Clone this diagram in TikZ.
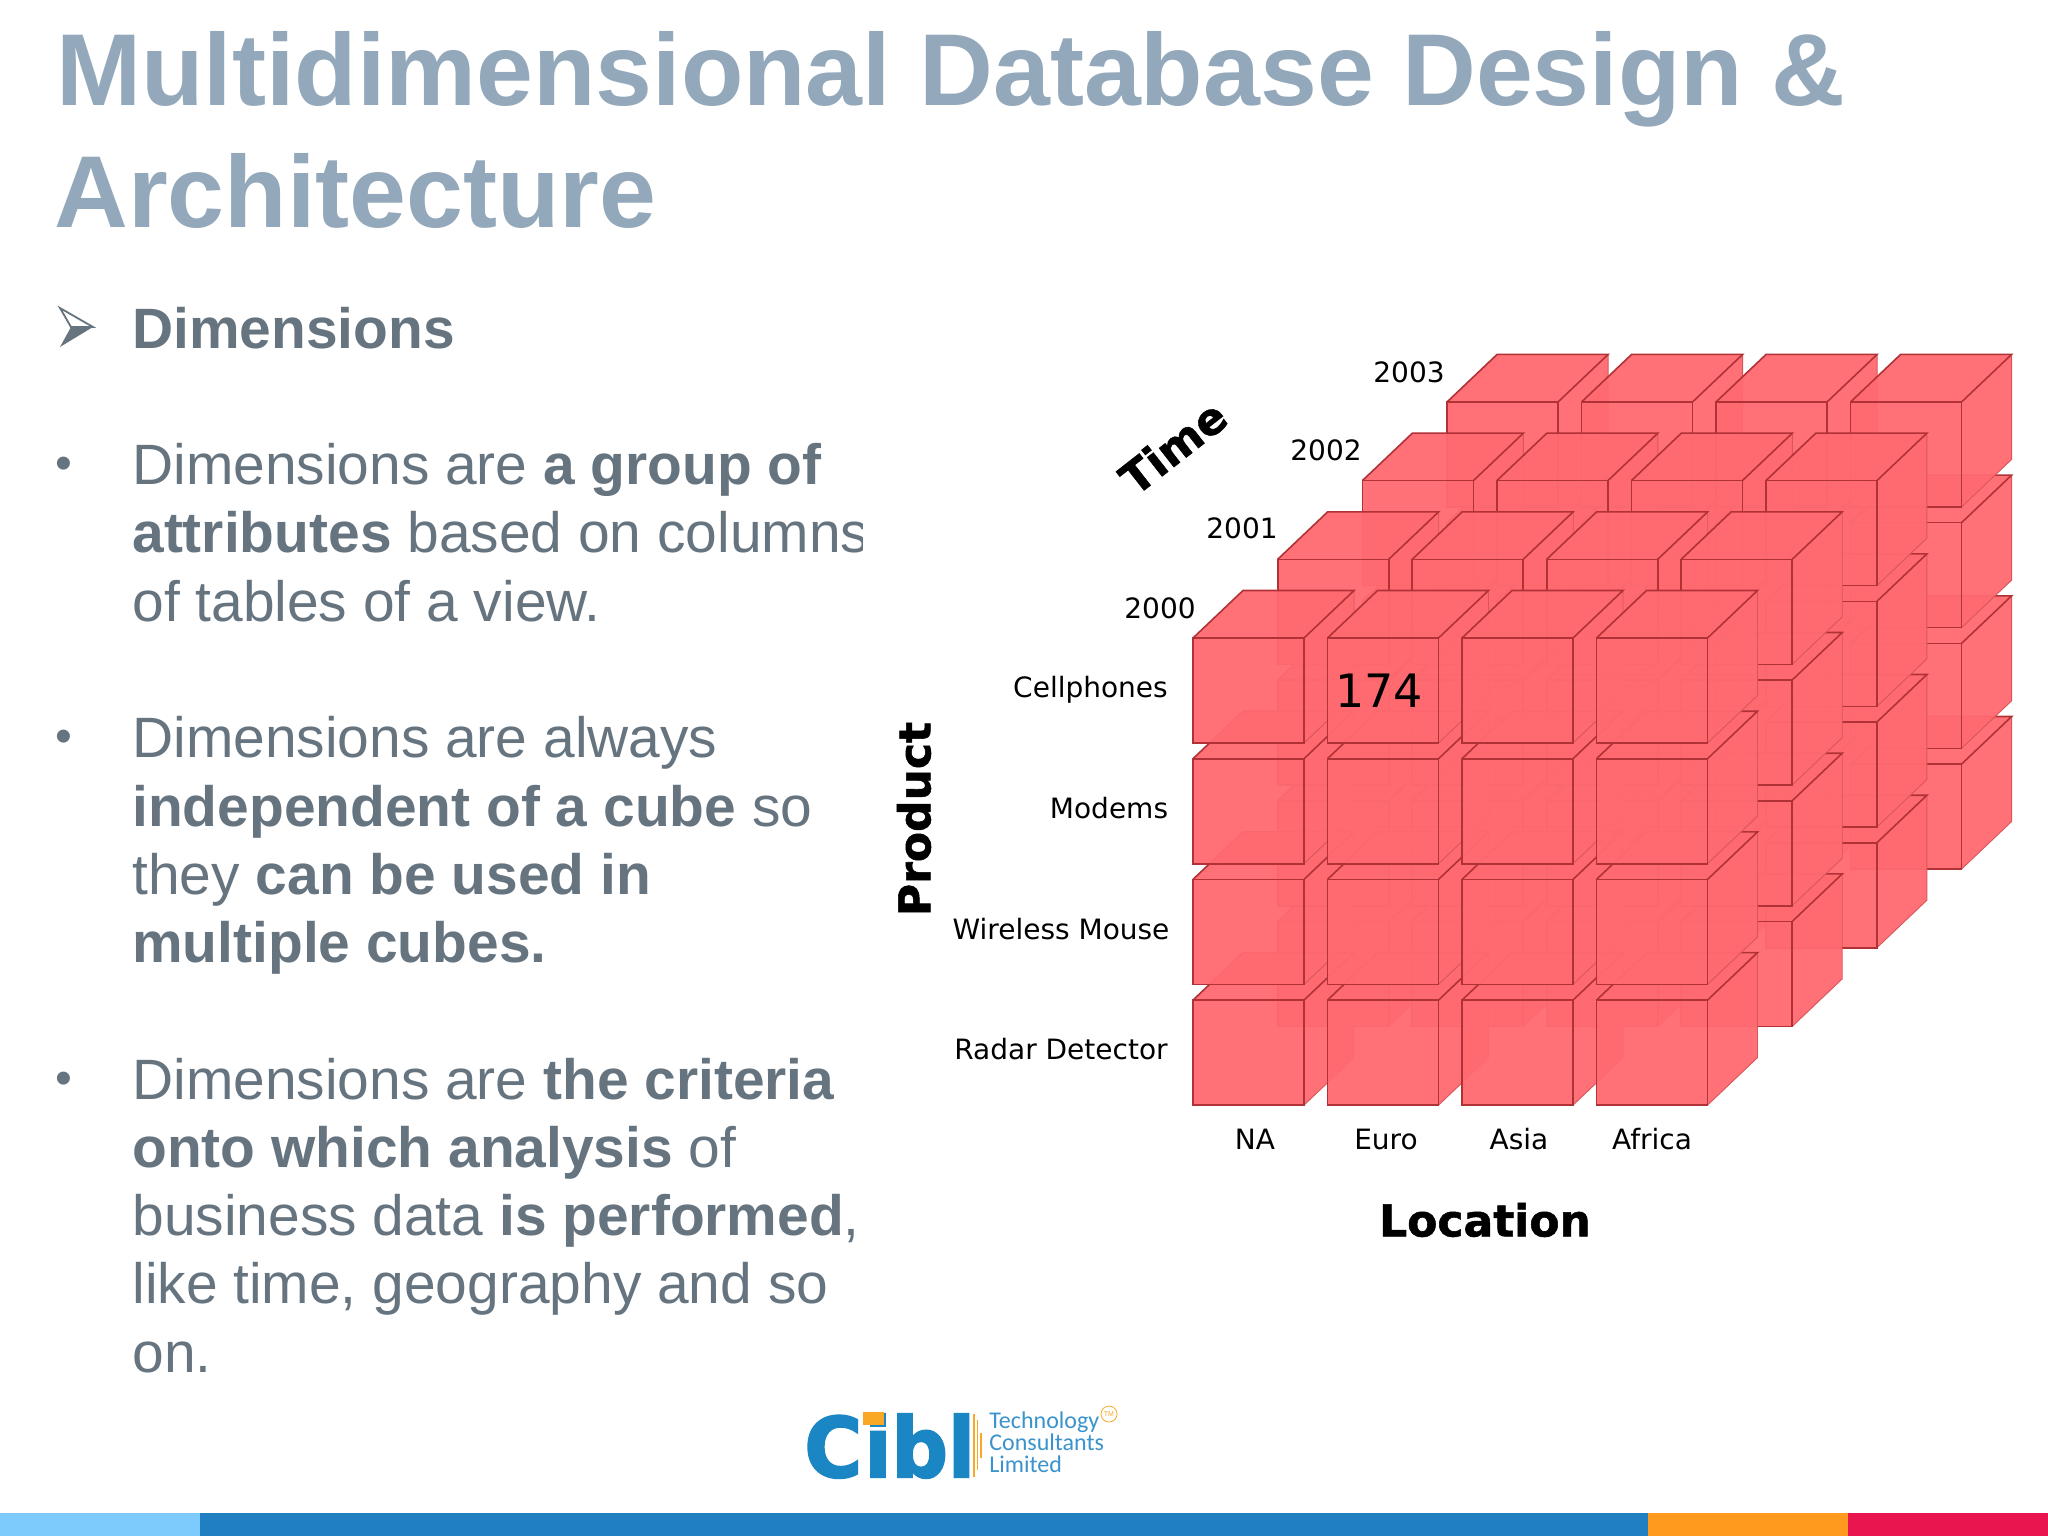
\documentclass[tikz,border=0pt]{standalone}
\usepackage{fontspec}
\setmainfont{Liberation Sans}
\newfontfamily\dejafont{DejaVu Sans}[BoldFeatures={FakeBold=1.2}]
\newfontfamily\heavyfont{DejaVu Sans}[BoldFeatures={FakeBold=2.5}]
\newfontfamily\logofont{Carlito}
\definecolor{titlecol}{HTML}{93A8BA}
\definecolor{bodycol}{HTML}{667480}
\definecolor{cubecol}{HTML}{FF6A70}
\definecolor{cubeline}{HTML}{B03236}
\definecolor{cubefaint}{HTML}{D8565A}
\definecolor{barlight}{HTML}{7CCBFC}
\definecolor{barblue}{HTML}{1F7FC1}
\definecolor{barorange}{HTML}{FF9A1E}
\definecolor{barred}{HTML}{E9154F}
\definecolor{logoblue}{HTML}{1A86C4}
\definecolor{logoorange}{HTML}{F9A825}
\definecolor{logotext}{HTML}{3A93CC}
\tikzset{
  titletext/.style={anchor=base west,inner sep=0pt,text=titlecol,font=\fontsize{51.1}{51.1}\selectfont\bfseries},
  bodytext/.style={anchor=base west,inner sep=0pt,text=bodycol,font=\fontsize{28.45}{28.45}\selectfont},
  bulletmark/.style={anchor=center,inner sep=0pt,text=bodycol,font=\fontsize{24}{24}\selectfont},
  cubelabel/.style={anchor=center,inner sep=0pt,text=black,font=\dejafont\fontsize{14}{14}\selectfont},
  axislabel/.style={anchor=center,inner sep=0pt,text=black,font=\dejafont\bfseries\fontsize{22}{22}\selectfont},
  logoline/.style={anchor=base west,inner sep=0pt,text=logotext,font=\logofont\fontsize{12}{12}\selectfont},
  cubeshade/.style={fill=cubecol,fill opacity=0.95},
  cubeedge/.style={draw=cubeline,line width=0.8pt,line join=miter},
  cubesoft/.style={draw=cubefaint,line width=0.45pt},
}
\newcommand{\cubeat}[2]{%
  \fill[cubeshade] (#1,#2) -- ++(50,-47.5) -- ++(111,0) -- ++(0,105) -- ++(-50,47.5) -- ++(-111,0) -- cycle;
  \draw[cubesoft] (#1+161,#2-47.5) -- ++(0,105) -- ++(-50,47.5);
  \draw[cubeedge] (#1,#2) rectangle ++(111,105);
  \draw[cubeedge] (#1,#2) -- ++(50,-47.5) -- ++(111,0) -- ++(-50,47.5);
}
\begin{document}
\begin{tikzpicture}[x=0.5pt,y=-0.5pt]
\useasboundingbox (0,0) rectangle (2048,1536);
\fill[white] (0,0) rectangle (2048,1536);
% title
\node[titletext] (title1) at (56,105) {Multidimensional Database Design \&};
\node[titletext] (title2) at (54,227) {Architecture};
% heading
\draw[bodycol,line width=0.9pt,line join=miter] (60,308) -- (93,327) -- (71,327) -- cycle;
\fill[bodycol] (60,347) -- (93,327) -- (71,327) -- cycle;
\node[bodytext] (head) at (132,348) {\bfseries Dimensions};
% paragraph 1
\node[bulletmark] (b1) at (64,468) {•};
\node[bodytext] (p1a) at (132,484.5) {Dimensions are \textbf{a group of}};
\node[bodytext] (p1b) at (132,552.8) {\textbf{attributes} based on columns};
\node[bodytext] (p1c) at (132,621.1) {of tables of a view.};
% paragraph 2
\node[bulletmark] (b2) at (64,741) {•};
\node[bodytext] (p2a) at (132,757.7) {Dimensions are always};
\node[bodytext] (p2b) at (132,826) {\textbf{independent of a cube} so};
\node[bodytext] (p2c) at (132,894.3) {they \textbf{can be used in}};
\node[bodytext] (p2d) at (132,962.6) {\textbf{multiple cubes.}};
% paragraph 3
\node[bulletmark] (b3) at (64,1083) {•};
\node[bodytext] (p3a) at (132,1099) {Dimensions are \textbf{the criteria}};
\node[bodytext] (p3b) at (132,1167.3) {\textbf{onto which analysis} of};
\node[bodytext] (p3c) at (132,1235.6) {business data \textbf{is performed},};
\node[bodytext] (p3d) at (132,1303.9) {like time, geography and so};
\node[bodytext] (p3e) at (132,1372.2) {on.};
% picture background cuts the text
\fill[white] (863,300) rectangle (2048,1330);
% cube layers, back to front
\foreach \layer in {3,2,1,0}{
  \foreach \row in {3,2,1,0}{
    \foreach \col in {0,1,2,3}{
      \pgfmathsetmacro{\cx}{1193+134.5*\col+84.7*\layer}
      \pgfmathsetmacro{\cy}{638+120.7*\row-78.7*\layer}
      \cubeat{\cx}{\cy}
    }
  }
}
% cube labels
\node[cubelabel] (y2003) at (1409,372) {2003};
\node[cubelabel] (y2002) at (1326,450.5) {2002};
\node[cubelabel] (y2001) at (1242,528) {2001};
\node[cubelabel] (y2000) at (1160,608) {2000};
\node[cubelabel] (cell) at (1090.5,690) {Cellphones};
\node[cubelabel] (modem) at (1109,808) {Modems};
\node[cubelabel] (mouse) at (1061,929) {Wireless Mouse};
\node[cubelabel] (radar) at (1061,1049) {Radar Detector};
\node[cubelabel] (na) at (1255,1139) {NA};
\node[cubelabel] (euro) at (1386,1139) {Euro};
\node[cubelabel] (asia) at (1519,1139) {Asia};
\node[cubelabel] (africa) at (1652,1139) {Africa};
\node[axislabel] (loc) at (1485,1220) {Location};
\node[axislabel,rotate=90] (prod) at (914,819) {Product};
\node[axislabel,rotate=38] (time) at (1173,447) {Time};
\node[anchor=center,inner sep=0pt,text=black,font=\dejafont\fontsize{23}{23}\selectfont] (val) at (1379,691) {174};
% logo
\node[anchor=base west,inner sep=0pt,text=logoblue,font=\heavyfont\bfseries\fontsize{41.5}{41.5}\selectfont,xscale=0.95] (cibl) at (804,1477) {C\kern1.2pt ibl};
\fill[logoorange] (863,1412) rectangle (884,1425);
\draw[logoorange,line width=0.6pt] (974,1414) -- (974,1477) (977.5,1420) -- (977.5,1470) (981,1433) -- (981,1458);
\node[logoline] (l1) at (989,1428) {Technology};
\node[logoline] (l2) at (989,1450) {Consultants};
\node[logoline] (l3) at (989,1472) {Limited};
\node[circle,draw=logoorange,line width=0.4pt,inner sep=0pt,minimum size=8pt,text=logoorange,font=\fontsize{3.5}{3.5}\selectfont] (tm) at (1109,1414) {TM};
% footer bars
\fill[barlight] (0,1513) rectangle (200,1536);
\fill[barblue] (200,1513) rectangle (1648,1536);
\fill[barorange] (1648,1513) rectangle (1848,1536);
\fill[barred] (1848,1513) rectangle (2048,1536);
\end{tikzpicture}
\end{document}
